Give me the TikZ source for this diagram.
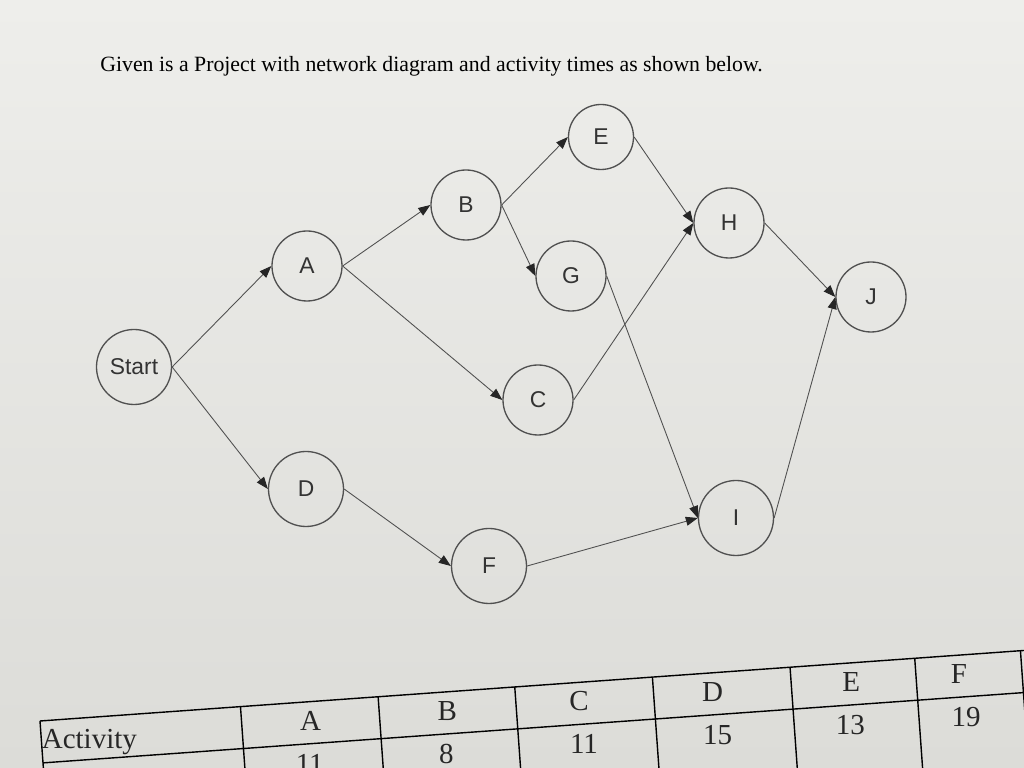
\documentclass[tikz,border=0pt]{standalone}
\usepackage{fontspec}
\setmainfont{Liberation Serif}
\setsansfont{Liberation Sans}
\usetikzlibrary{arrows.meta}
\definecolor{paper}{RGB}{220,220,216}
\definecolor{paperlight}{RGB}{238,238,235}
\definecolor{ink}{RGB}{80,80,80}

\begin{document}
\begin{tikzpicture}[x=0.2mm, y=-0.2mm,
    event/.style={circle, draw=ink, line width=0.75pt, minimum size=14mm, inner sep=0pt,
      font=\sffamily\fontsize{13}{15}\selectfont, text=black!80},
    link/.style={draw=ink, line width=0.5pt, -{Triangle[length=2.4mm, width=1.8mm, color=black!85]}},
    cell/.style={font=\fontsize{16.5}{18}\selectfont, text=black!85}]
  \useasboundingbox (0,0) rectangle (1024,768);
  \clip (0,0) rectangle (1024,768);
  \shade [top color=paperlight, bottom color=paper] (0,0) rectangle (1024,768);

  \node [right, inner sep=0pt, font=\fontsize{12.4}{14}\selectfont] (title) at (100,66)
    {Given is a Project with network diagram and activity times as shown below.};

  \node [event, minimum size=15mm] (start) at (134,367) {Start};
  \node [event] (a) at (307,266) {A};
  \node [event] (b) at (466,205) {B};
  \node [event, minimum size=13mm] (e) at (601,137) {E};
  \node [event] (g) at (571,276) {G};
  \node [event] (h) at (729,223) {H};
  \node [event] (j) at (871,297) {J};
  \node [event] (c) at (538,400) {C};
  \node [event, minimum size=15mm] (d) at (306,489) {D};
  \node [event, minimum size=15mm] (f) at (489,566) {F};
  \node [event, minimum size=15mm] (i) at (736,518) {I};

  \draw [link] (start.east) -- (a.west);
  \draw [link] (start.east) -- (d.west);
  \draw [link] (a.east) -- (b.west);
  \draw [link] (a.east) -- (c.west);
  \draw [link] (b.east) -- (e.west);
  \draw [link] (b.east) -- (g.west);
  \draw [link] (e.east) -- (h.west);
  \draw [link] (c.east) -- (h.west);
  \draw [link] (g.east) -- (i.west);
  \draw [link] (d.east) -- (f.west);
  \draw [link] (f.east) -- (i.west);
  \draw [link] (h.east) -- (j.west);
  \draw [link] (i.east) -- (j.west);

  \begin{scope}[shift={(40,721)}, rotate=4.1]
    \draw [thick] (0,0) -- (1010,0);
    \draw [thick] (0,42) -- (1010,42);
    \draw [thick] (0,0) -- (0,120);
    \draw [thick] (201,0) -- (201,120);
    \draw [thick] (339,0) -- (339,120);
    \draw [thick] (476,0) -- (476,120);
    \draw [thick] (614,0) -- (614,120);
    \draw [thick] (752,0) -- (752,120);
    \draw [thick] (877,0) -- (877,120);
    \draw [thick] (983,0) -- (983,120);

    \node [cell, right, inner sep=0pt] (act) at (0,21) {Activity};
    \node [cell] (ha) at (270,19) {A};
    \node [cell] (hb) at (407,19) {B};
    \node [cell] (hc) at (539,19) {C};
    \node [cell] (hd) at (673,19) {D};
    \node [cell] (he) at (812,19) {E};
    \node [cell] (hf) at (920,19) {F};
    \node [cell] (ta) at (266,62) {11};
    \node [cell] (tb) at (403,62) {8};
    \node [cell] (tc) at (541,62) {11};
    \node [cell] (td) at (675,62) {15};
    \node [cell] (te) at (808,62) {13};
    \node [cell] (tf) at (924,62) {19};
  \end{scope}
\end{tikzpicture}
\end{document}
